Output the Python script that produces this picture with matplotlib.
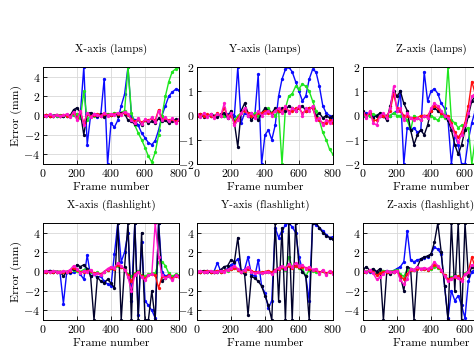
import numpy as np
import matplotlib
matplotlib.use("Agg")
import matplotlib.pyplot as plt

plt.rcParams['font.family'] = 'cmr10'
plt.rcParams['mathtext.fontset'] = 'cm'
plt.rcParams['axes.formatter.use_mathtext'] = True
plt.rcParams['font.size'] = 8

# frame numbers, one value every 20 frames
frames = np.arange(0, 801, 20)

# ---- X-axis (lamps) ----
xl_blue = [0, 0, 0, 0, 0, 0, 0, 0, 0, 0.1, 0, 0.2, 5.0, -3.0, 0.0, 0.2, -0.2, 0.1, 3.8, -5.0, -0.8,
           -1.2, -0.5, 1.0, 2.2, 5.0, 0.0, -0.5, -1.0, -1.8, -2.3, -2.8, -3.0, -2.6, -1.5, 0.0, 1.0,
           2.0, 2.4, 2.7, 2.6]
xl_green = [0, 0, 0.05, 0, 0, 0.05, 0, 0, 0, 0.1, 0.2, -0.3, 2.5, -0.5, 0.1, 0.0, 0.1, 0.0, 0.1, 0.2,
            0.1, 0.3, 0.2, 0.3, 0.5, 5.0, 0.3, -1.0, -1.8, -2.5, -3.3, -4.2, -4.8, -3.8, -2.0, 0.0,
            2.0, 3.5, 4.5, 4.8, 5.0]
xl_black = [0.0, 0.1, -0.1, 0.0, 0.1, -0.1, 0.0, 0.1, 0.0, 0.6, 0.8, 0.3, -2.0, 0.2, 0.3, 0.1, 0.0,
            0.2, -0.2, 0.1, 0.1, 0.2, 0.0, 0.3, 0.2, -0.5, -0.6, -0.9, -0.4, -1.0, -0.5, -0.8, -0.6,
            -0.8, -0.3, -0.6, -0.5, -0.8, -0.6, -0.4, -0.5]
xl_red = [0, 0.1, 0, -0.1, 0.1, 0, 0.1, 0, -0.1, 0.3, -0.3, 0.4, -0.8, 0.2, -0.1, 0.1, 0.2, 0, 0.2,
          0.1, 0.1, 0.2, 0.2, 0.2, 0.3, 0.1, -0.4, -0.6, -0.4, -0.7, -0.5, -0.5, -0.3, -0.5, 0.6,
          -0.4, -0.3, -0.5, -0.4, -0.6, -0.5]
xl_pink = [0.1, -0.1, 0.15, -0.05, 0.1, -0.1, 0.05, 0.15, -0.2, 0.4, -0.5, 0.5, -1.0, 0.3, -0.2,
           0.2, 0.1, -0.1, 0.3, 0.0, 0.2, 0.1, 0.3, 0.1, 0.4, 0.2, -0.5, -0.8, -0.3, -0.9, -0.4,
           -0.6, -0.2, -0.7, 0.5, -0.5, -0.2, -0.6, -0.3, -0.8, -0.4]

# ---- Y-axis (lamps) ----
yl_blue = [0, 0, 0, 0, 0, 0, 0, 0, 0, 0.05, 0.1, 0.0, 2.0, -0.3, 0.1, 0.0, 0.1, 0.0, 1.7, -2.0,
           -0.8, -0.6, -1.0, -0.4, 0.8, 1.5, 1.9, 2.0, 1.8, 1.4, 1.0, 0.6, 0.8, 1.5, 1.9, 1.8, 1.2,
           0.4, 0.1, 0.0, -0.1]
yl_green = [0, 0, 0.05, 0, 0, 0, 0, 0, 0, 0, 0.1, -0.2, 0.0, 0.1, 0.2, 0.1, 0.0, 0.1, 0.0, 0.1, 0.2,
            0.3, 0.1, 0.0, 0.2, -2.0, 0.3, 0.8, 0.9, 1.2, 1.1, 1.3, 1.2, 1.0, 0.6, 0.2, -0.2, -0.7,
            -1.0, -1.4, -1.6]
yl_black = [0, 0.05, -0.05, 0, 0.05, 0, -0.05, 0.05, 0.1, -0.1, 0.2, -0.3, -1.3, 0.2, 0.5, 0.1,
            -0.2, 0.0, -0.2, 0.1, 0.3, 0.2, 0.1, 0.3, 0.2, 0.3, 0.2, 0.4, 0.3, 0.2, 0.3, 0.4, 0.2,
            0.3, 0.3, 0.0, 0.1, -0.1, 0.0, -0.1, 0.0]
yl_red = [0, 0.05, 0, 0.05, 0, -0.05, 0.1, 0.0, 0.3, 0.0, 0.0, -0.3, -0.1, 0.1, 0.2, 0.1, 0.0, 0.0,
          0.1, 0.1, 0.2, 0.1, 0.1, 0.2, 0.2, 0.2, 0.3, 0.2, 0.2, 0.3, 0.3, 0.1, 0.2, 0.3, 0.3, -0.1,
          -0.2, -0.3, -0.3, -0.2, -0.3]
yl_pink = [0.05, -0.05, 0.1, -0.05, 0.05, -0.1, 0.05, 0.0, 0.5, -0.1, 0.1, -0.4, -0.2, 0.1, 0.3,
           0.0, 0.1, -0.1, 0.2, 0.0, 0.1, 0.2, 0.0, 0.2, 0.3, 0.1, 0.4, 0.1, 0.3, 0.2, 0.4, 0.0,
           0.3, 0.2, 0.4, -0.2, -0.1, -0.4, -0.2, -0.3, -0.2]

# ---- Z-axis (lamps) ----
zl_blue = [0, 0.1, 0, 0, 0, 0, 0, 0, 0, 0.1, 0.2, 1.0, -2.0, -0.5, -0.6, -0.5, -0.7, -0.6, 1.8,
           0.6, 1.0, 1.1, 0.9, 0.5, 0.3, -0.2, -2.0, -0.8, -1.2, -2.0, -2.0, -1.0, -0.3, 0.2, 0.3,
           0.2, 0.1, 0.2, 0.1, 0.1, 0.1]
zl_green = [0, 0, 0, 0.05, 0, 0, 0, 0, 0, 0.1, 0, 0, 0, -0.2, -0.6, 0.0, -0.1, -0.2, 0.0, -0.1, 0.0,
            -0.1, -0.2, 0.0, -0.1, 2.0, -0.2, -0.3, -0.5, -0.4, -0.6, -0.5, -2.0, -1.0, 0.0, 0.2,
            0.3, 0.3, 0.2, 0.2, 0.2]
zl_black = [0.2, 0.0, 0.1, -0.1, 0.0, 0.1, 0.0, -0.2, 0.4, 1.0, 0.8, 1.0, 0.5, 0.2, -0.6, -1.2,
            -0.8, -0.6, -0.8, -0.4, 0.2, 0.3, 0.2, 0.1, 0.0, -0.2, -0.6, -1.2, -1.6, -1.2, -0.6,
            0.0, 0.6, 0.8, 0.6, 0.4, 0.3, 0.3, 0.2, 0.2, 0.2]
zl_red = [0.1, 0.0, 0.1, -0.2, -0.2, 0.0, 0.0, 0.0, 0.2, 0.9, 0.3, 0.2, 0.0, 0.0, -0.1, -0.1, -0.1,
          0.0, 0.0, 0.0, 0.2, 0.4, 0.3, 0.1, 0.0, 0.0, -0.3, -0.7, -0.9, -0.7, -0.3, 0.4, 1.4, 0.9,
          0.6, 0.4, 0.3, 0.3, 0.2, 0.2, 0.2]
zl_pink = [0.1, -0.1, 0.2, -0.3, -0.4, 0.0, 0.1, -0.1, 0.3, 1.2, 0.2, 0.3, -0.2, 0.1, -0.1, -0.2,
           -0.1, -0.2, 0.0, -0.1, 0.3, 0.5, 0.4, 0.2, 0.0, -0.1, -0.4, -0.8, -1.1, -0.8, -0.4,
           0.1, 0.8, 0.9, 0.7, 0.5, 0.3, 0.4, 0.3, 0.2, 0.3]

# ---- X-axis (flashlight) ----
xf_blue = [0, 0, 0.1, 0, 0, -0.1, -3.3, 0.0, -0.2, -0.1, 0.2, -0.3, -0.8, 1.7, -0.5, -0.3, -0.6,
           -0.5, -1.0, -1.3, -1.5, 1.8, 5.0, 1.0, 2.0, 4.0, -3.0, 5.0, -4.5, 3.0, -3.0, -3.5, -4.0,
           -4.8, 5.0, 0.0, -0.5, -0.3, -0.6, -0.4, -0.5]
xf_green = [0, 0, 0, 0.05, 0, 0, 0, 0, 0.1, 0.2, 0.1, 0.0, 0.2, 0.3, 0.0, -0.2, -0.1, -0.3, 0.0,
            0.2, 0.4, 0.3, 0.6, 0.5, 0.3, -0.3, -0.5, -0.2, 0.1, -0.4, -0.5, -0.3, -0.2, -0.2,
            1.0, 1.0, 0.6, -0.2, -0.5, -0.3, -0.4]
xf_black = [0, 0, 0.1, 0, 0, 0, -0.5, 0.0, 0.0, 0.3, 0.7, 0.5, 0.7, 0.3, -0.5, -5.0, -0.6, -1.0,
            -1.2, -0.8, -1.2, -1.7, 5.0, -5.0, 0.5, 5.0, -5.0, 5.0, -5.0, 4.0, -5.0, -5.0, -2.0,
            -5.0, 5.0, -1.0, -0.7, -0.5, -0.8, -0.4, -0.5]
xf_red = [0, 0, 0, 0, 0, 0, 0, 0, 0.1, 0.4, 0.2, -0.1, 0.0, 0.1, 0.1, -0.2, -0.2, -0.3, 0.0, 0.2,
          0.4, 0.3, 0.7, 0.5, 0.2, -0.4, -1.0, -0.3, 0.0, -0.5, -0.7, -0.4, -0.3, -0.4, -1.7, -0.5,
          -0.6, -0.4, -0.7, -0.5, -0.5]
xf_pink = [0, 0.1, -0.1, 0.1, 0, -0.1, 0.1, 0.0, 0.2, 0.6, 0.3, -0.2, 0.1, 0.0, 0.2, -0.3, -0.2,
           -0.4, 0.0, 0.3, 0.5, 0.4, 0.9, 0.6, 0.2, -0.6, -2.0, -0.4, 0.0, -0.6, -0.9, -0.4, -0.3,
           5.0, 1.5, -0.4, -0.7, -0.5, -0.9, -0.4, -0.6]

# ---- Y-axis (flashlight) ----
yf_blue = [0, 0, 0, 0.1, 0, 0, 0.9, 0.0, 0.1, 0.3, 0.7, 0.9, 1.3, 0.1, 0.2, 1.5, -0.3, -0.5, 1.2,
           -1.5, -2.2, -3.8, -3.0, 4.5, 3.5, 4.2, 4.8, 5.0, 4.6, 4.0, 1.5, 0.2, -0.5, -3.0, 5.0,
           4.8, 4.5, 4.2, 3.8, 3.5, 3.6]
yf_green = [0, 0, 0, 0, 0, 0, 0, 0, 0.1, 0.1, 0.3, 0.4, 0.2, 0.0, 0.1, 0.3, 0.0, -0.1, -0.1, -0.2,
            -0.1, 0.0, -0.2, 0.1, 0.3, 0.4, 0.2, 1.5, 0.5, 0.6, 0.4, 0.3, -0.5, 0.2, 0.1, 0.0,
            -0.2, 0.1, -0.3, 0.0, -0.2]
yf_black = [0, 0, 0.1, 0, -0.1, 0, 0.0, 0.2, 0.5, 0.6, 1.2, 1.0, 3.5, 0.0, -0.3, -4.5, -0.5, -0.7,
            -1.0, -1.5, -2.5, -3.5, -5.0, 5.0, -3.0, 4.5, -5.0, 5.0, -5.0, 5.0, 0.5, 0.0, -0.5,
            -5.0, 5.0, 5.0, 4.5, 4.0, 3.7, 3.5, 3.3]
yf_red = [0, 0, 0, 0.1, 0, 0, 0.1, 0, 0.1, 0.2, 0.3, 0.4, 0.2, 0.0, 0.1, 0.3, 0.1, -0.1, 0.0, -0.1,
          0.0, 0.1, -0.1, 0.2, 0.3, 0.5, 0.4, 0.6, 0.4, 0.6, 0.5, 0.5, 0.4, 0.3, 0.2, 0.2, -0.1,
          0.1, -0.2, 0.0, -0.1]
yf_pink = [0, 0.1, -0.1, 0.0, 0.1, -0.1, 0.0, 0.1, 0.0, 0.2, 0.4, 0.6, 0.3, -0.1, 0.2, 0.5, 0.0,
           -0.2, -0.1, -0.2, -0.1, 0.0, -0.3, 0.1, 0.4, 0.6, 0.3, 0.8, 0.5, 0.9, 0.6, 0.7, 0.3,
           0.5, 0.2, 0.3, -0.3, 0.2, -0.4, 0.1, -0.3]

# ---- Z-axis (flashlight) ----
zf_blue = [0, 0, 0, 0.1, 0, 0, 0, 0.1, 0, 0.1, 0.3, 0.5, 1.0, 4.2, 1.2, 1.0, 1.2, 1.3, 1.4, 1.5,
           1.8, 2.5, 2.3, 1.8, -1.5, -4.8, -2.0, -3.0, -2.5, -3.5, -4.8, -1.0, 0.0, 0.2, 0.1, 0.2,
           0.1, 0.1, 0.2, 0.1, 0.1]
zf_green = [0, 0, 0.1, 0, -0.3, 0, 0.1, 0, 0, 0.1, 0.2, -0.3, -0.5, 0.2, 0.3, 0.2, 0.4, 0.3, 0.3,
            0.2, 0.3, 0.5, 0.4, 0.1, -0.4, -0.8, -0.6, -0.4, -0.6, -0.8, -0.2, 0.1, 0.5, 0.3, 0.2,
            0.1, 0.1, 0.0, 0.1, 0.0, 0.1]
zf_black = [0.2, 0.5, 0.1, 0.3, 0.0, 0.3, -5.0, 0.0, -0.3, 0.0, 0.1, -0.5, -2.0, 0.5, 0.3, -5.0,
            0.5, 1.3, 1.5, 1.6, 1.8, 3.0, 5.0, 2.0, -1.5, -5.0, 5.0, -2.0, 5.0, -5.0, 5.0, -0.5,
            0.5, 0.3, 0.2, 0.1, 0.2, 0.0, 0.1, 0.0, 0.1]
zf_red = [0, 0, 0.1, 0, -0.4, -0.2, 0, 0, 0, 0, 0.1, -0.5, -0.8, -0.3, 0.2, 0.2, 0.3, 0.3, 0.3, 0.2,
          0.4, 0.7, 0.5, 0.1, -0.4, -0.8, -0.7, -0.6, -0.5, -0.8, -0.3, 0.0, 1.5, 0.4, 0.2, 0.1,
          0.1, 0.0, 0.1, 0.0, 0.1]
zf_pink = [0.1, -0.1, 0.2, -0.2, -0.8, -0.6, -0.3, 0.1, -0.1, 0.0, 0.1, -0.9, -1.3, -0.8, 0.3, 0.2,
           0.5, 0.3, 0.4, 0.3, 0.5, 1.0, 0.6, 0.2, -0.5, -1.0, -0.8, -0.5, -0.7, -1.0, -0.3, 0.0,
           0.7, 0.5, 0.3, 0.2, 0.1, 0.0, 0.1, 0.0, 0.1]

titles = ['X-axis (lamps)', 'Y-axis (lamps)', 'Z-axis (lamps)',
          'X-axis (flashlight)', 'Y-axis (flashlight)', 'Z-axis (flashlight)']
panels = [
    [xl_blue, xl_green, xl_black, xl_red, xl_pink],
    [yl_blue, yl_green, yl_black, yl_red, yl_pink],
    [zl_blue, zl_green, zl_black, zl_red, zl_pink],
    [xf_blue, xf_green, xf_black, xf_red, xf_pink],
    [yf_blue, yf_green, yf_black, yf_red, yf_pink],
    [zf_blue, zf_green, zf_black, zf_red, zf_pink],
]
ylims = [(-5, 5), (-2, 2), (-2, 2), (-5, 5), (-5, 5), (-5, 5)]
yticks = [[-4, -2, 0, 2, 4], [-2, -1, 0, 1, 2], [-2, -1, 0, 1, 2],
          [-4, -2, 0, 2, 4], [-4, -2, 0, 2, 4], [-4, -2, 0, 2, 4]]
colors = ['#0a0aff', '#1ee61e', '#00002a', '#ff1010', '#ff14c8']

W, H = 474, 351
fig = plt.figure(figsize=(W / 100, H / 100), dpi=100)
lefts = [43, 197, 363]
tops = [67, 223]
aw, ah = 136, 97

for k in range(6):
    r, c = divmod(k, 3)
    ax = fig.add_axes([lefts[c] / W, 1 - (tops[r] + ah) / H, aw / W, ah / H])
    for vals, col in zip(panels[k], colors):
        ax.plot(frames, vals, color=col, lw=1.0, marker='o', ms=2.4, mew=0)
    ax.set_xlim(0, 800)
    ax.set_ylim(*ylims[k])
    ax.set_xticks([0, 200, 400, 600, 800])
    ax.set_yticks(yticks[k])
    ax.grid(True, color='#d8d8d8', lw=0.6)
    ax.set_axisbelow(True)
    ax.tick_params(direction='in', length=3, width=0.6, pad=2, labelsize=8.5)
    for s in ax.spines.values():
        s.set_linewidth(0.7)
    ax.set_title(titles[k], fontsize=8, pad=11)
    ax.set_xlabel('Frame number', fontsize=8.5, labelpad=3)
    if c == 0:
        ax.set_ylabel('Error (mm)', fontsize=8.5, labelpad=1)

fig.savefig('out.png', dpi=100)
